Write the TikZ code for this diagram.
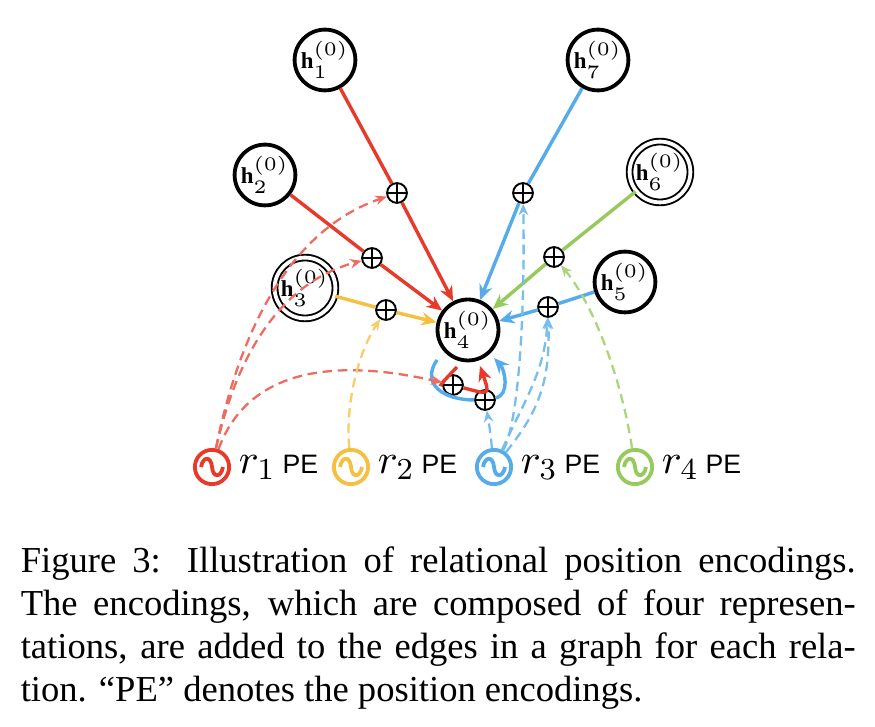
\documentclass[tikz,border=0pt]{standalone}
\usepackage{fontspec}
\setmainfont{Liberation Serif}
\newfontfamily\sansf{Liberation Sans}
\usetikzlibrary{arrows.meta}
\definecolor{cr}{RGB}{232,58,42}
\definecolor{cy}{RGB}{245,192,65}
\definecolor{cb}{RGB}{85,172,232}
\definecolor{cg}{RGB}{150,202,92}
\begin{document}
\begin{tikzpicture}[x=0.2625pt,y=-0.2625pt,
 hn/.style={circle,draw,line width=1pt,minimum size=13pt,inner sep=0pt,font=\fontsize{6}{6}\selectfont},
 hd/.style={hn,double,double distance=1pt,line width=0.5pt},
 pl/.style={circle,draw,line width=0.5pt,minimum size=5.2pt,inner sep=0pt,path picture={\draw[line width=0.5pt] (path picture bounding box.north)--(path picture bounding box.south) (path picture bounding box.east)--(path picture bounding box.west);}},
 ed/.style={line width=0.9pt,-{Stealth[length=4pt,width=3.5pt]}},
 sg/.style={line width=0.9pt},
 ds/.style={line width=0.6pt,dashed,dash pattern=on 2.5pt off 1.5pt,-{Stealth[length=3pt,width=2.5pt]}},
 pe/.style={circle,draw,line width=1pt,minimum size=9pt,inner sep=0pt},
 lb/.style={anchor=west,inner sep=0pt,font=\fontsize{11}{11}\selectfont}]
\useasboundingbox (0,0) rectangle (875,727);
\node[hn] (h1) at (325,60) {$\mathbf{h}_1^{(0)}$};
\node[hn] (h7) at (598,60) {$\mathbf{h}_7^{(0)}$};
\node[hn] (h2) at (265,175) {$\mathbf{h}_2^{(0)}$};
\node[hd] (h6) at (660,172) {$\mathbf{h}_6^{(0)}$};
\node[hd] (h3) at (305,288) {$\mathbf{h}_3^{(0)}$};
\node[hn] (h5) at (625,282) {$\mathbf{h}_5^{(0)}$};
\node[hn,minimum size=16pt] (h4) at (468,330) {$\mathbf{h}_4^{(0)}$};
\node[pl] (p1) at (397,193) {};
\node[pl] (p2) at (372,258) {};
\node[pl] (p3) at (386,310) {};
\node[pl] (p7) at (523,193) {};
\node[pl] (p6) at (554,257) {};
\node[pl] (p5) at (548,307) {};
\node[pl] (pr) at (453,385) {};
\node[pl] (pb) at (485,400) {};
% edges
\draw[sg,cr] (h1)--(p1); \draw[ed,cr] (p1)--(h4);
\draw[sg,cr] (h2)--(p2); \draw[ed,cr] (p2)--(h4);
\draw[sg,cy] (h3)--(p3); \draw[ed,cy] (p3)--(h4);
\draw[sg,cb] (h7)--(p7); \draw[ed,cb] (p7)--(h4);
\draw[sg,cg] (h6)--(p6); \draw[ed,cg] (p6)--(h4);
\draw[sg,cb] (h5)--(p5); \draw[ed,cb] (p5)--(h4);
% self loops
\coordinate (ra) at (457,367); \coordinate (rb) at (480,366);
\coordinate (ba) at (437,360); \coordinate (bb) at (494,358);
\draw[sg,cr] (ra) .. controls (440,385) .. (pr);
\draw[ed,cr] (pr) .. controls (490,395) .. (rb);
\draw[sg,cb] (ba) .. controls (420,385) and (445,400) .. (pb);
\draw[ed,cb] (pb) .. controls (510,395) and (505,370) .. (bb);
% PE symbols
\foreach \n/\c/\x/\i in {q1/cr/212/1,q2/cy/351/2,q3/cb/494/3,q4/cg/635/4}{
 \node[pe,draw=\c] (\n) at (\x,467) {};
 \draw[\c,line width=1pt] (\x-11,467) .. controls (\x-9,456) and (\x-1,456) .. (\x,467) .. controls (\x+1,478) and (\x+9,478) .. (\x+11,467);
 \node[lb] (t\n) at (\x+26,467) {$r_{\i}$\,{\sansf\fontsize{7}{7}\selectfont PE}};
}
% dashed
\draw[ds,cr!75] (q1) .. controls (240,330) and (290,230) .. (p1);
\draw[ds,cr!75] (q1) .. controls (240,340) and (290,280) .. (p2);
\draw[ds,cr!75] (q1) .. controls (240,390) and (300,350) .. (pr);
\draw[ds,cy!80] (q2) .. controls (345,400) and (360,350) .. (p3);
\draw[ds,cb!80] (q3) .. controls (520,420) and (525,300) .. (p7);
\draw[ds,cb!80] (q3) .. controls (540,410) and (550,380) .. (p5);
\draw[ds,cb!80] (q3) .. controls (525,400) and (545,370) .. (p5);
\draw[ds,cb!80] (q3) .. controls (490,430) .. (pb);
\draw[ds,cg!80] (q4) .. controls (620,370) and (590,300) .. (p6);
% caption
\node[anchor=north west,inner sep=0pt,text width=835*0.2625pt,align=justify,font=\fontsize{9.6}{11.3}\selectfont] (cap) at (20,546)
{Figure 3: Illustration of relational position encodings.\linebreak The encodings, which are composed of four represen-\linebreak tations, are added to the edges in a graph for each rela-\linebreak tion. ``PE'' denotes the position encodings.};
\end{tikzpicture}
\end{document}
